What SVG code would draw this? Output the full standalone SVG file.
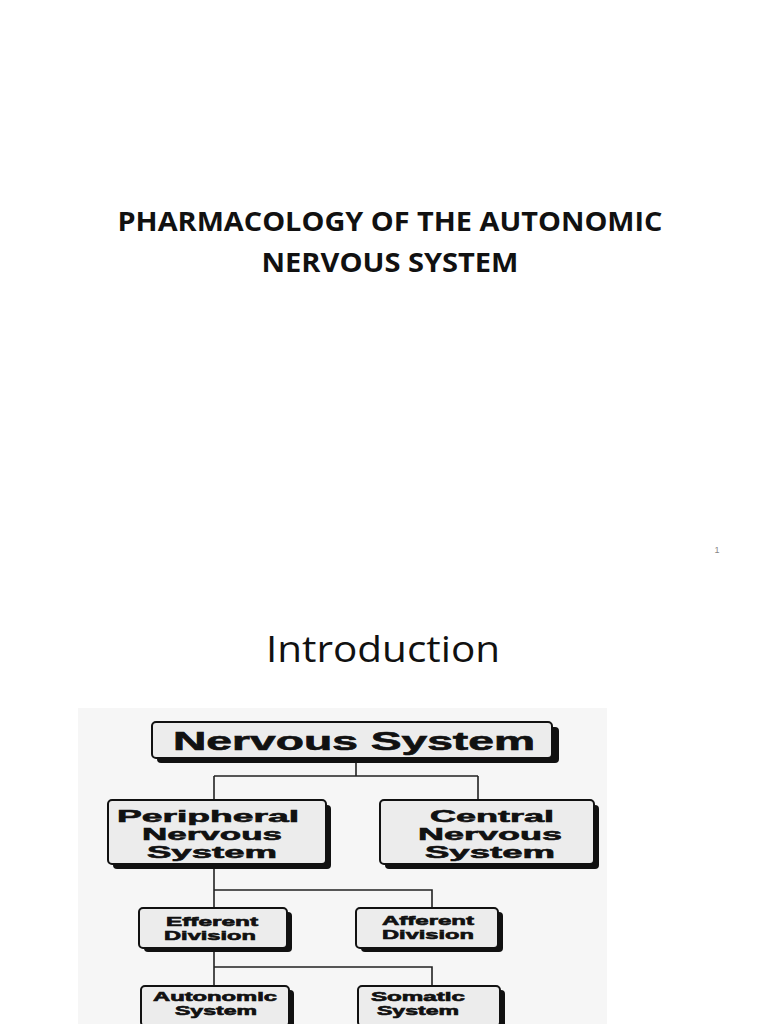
<svg xmlns="http://www.w3.org/2000/svg" width="768" height="1024" viewBox="0 0 768 1024">
<style>
.title{font-family:"Open Sans","Liberation Sans",sans-serif;font-weight:bold;font-size:26px;fill:#111;text-anchor:middle}
.intro{font-family:"Open Sans","Liberation Sans",sans-serif;font-size:37px;fill:#111;text-anchor:middle}
.box{fill:#ececec;stroke:#111;stroke-width:2}
.sh{fill:#111}
.lbl{font-family:"Liberation Sans",Arial,sans-serif;font-weight:bold;fill:#111;stroke:#111;stroke-width:0.6;text-anchor:middle}
.ln{stroke:#222;stroke-width:1.6;fill:none}
</style>
<rect width="768" height="1024" fill="#fff"/>
<text class="title" x="390" y="231" textLength="545" lengthAdjust="spacingAndGlyphs">PHARMACOLOGY OF THE AUTONOMIC</text>
<text class="title" x="390" y="272" textLength="257" lengthAdjust="spacingAndGlyphs">NERVOUS SYSTEM</text>
<text x="717" y="553" font-family="Liberation Sans,sans-serif" font-size="9" fill="#888" text-anchor="middle">1</text>
<text class="intro" x="383" y="662" textLength="234" lengthAdjust="spacingAndGlyphs">Introduction</text>
<rect x="78" y="708" width="529" height="316" fill="#f6f6f6"/>
<g id="connectors">
<path class="ln" d="M356 760V776M214 776H478M214 776V800M478 776V800"/>
<path class="ln" d="M214 866V908M214 890H432V908"/>
<path class="ln" d="M214 950V986M214 967H432V986"/>
</g>
<g id="nervous-system">
<rect class="sh" x="157" y="727" width="402" height="36" rx="4"/>
<rect class="box" x="152" y="722" width="400" height="36" rx="4"/>
<text class="lbl" x="354" y="750" font-size="25" textLength="362" lengthAdjust="spacingAndGlyphs">Nervous System</text>
</g>
<g id="peripheral">
<rect class="sh" x="113" y="805" width="218" height="64" rx="4"/>
<rect class="box" x="108" y="800" width="218" height="64" rx="4"/>
<text class="lbl" x="208" y="822" font-size="17" textLength="182" lengthAdjust="spacingAndGlyphs">Peripheral</text>
<text class="lbl" x="212" y="840" font-size="17" textLength="140" lengthAdjust="spacingAndGlyphs">Nervous</text>
<text class="lbl" x="212" y="858" font-size="17" textLength="130" lengthAdjust="spacingAndGlyphs">System</text>
</g>
<g id="central">
<rect class="sh" x="385" y="805" width="214" height="64" rx="4"/>
<rect class="box" x="380" y="800" width="214" height="64" rx="4"/>
<text class="lbl" x="492" y="822" font-size="17" textLength="124" lengthAdjust="spacingAndGlyphs">Central</text>
<text class="lbl" x="490" y="840" font-size="17" textLength="144" lengthAdjust="spacingAndGlyphs">Nervous</text>
<text class="lbl" x="490" y="858" font-size="17" textLength="130" lengthAdjust="spacingAndGlyphs">System</text>
</g>
<g id="efferent">
<rect class="sh" x="144" y="912" width="148" height="40" rx="4"/>
<rect class="box" x="139" y="908" width="148" height="40" rx="4"/>
<text class="lbl" x="212" y="926" font-size="12.5" stroke-width="0.4" textLength="92" lengthAdjust="spacingAndGlyphs">Efferent</text>
<text class="lbl" x="210" y="940" font-size="12.5" stroke-width="0.4" textLength="92" lengthAdjust="spacingAndGlyphs">Division</text>
</g>
<g id="afferent">
<rect class="sh" x="361" y="912" width="142" height="40" rx="4"/>
<rect class="box" x="356" y="908" width="142" height="40" rx="4"/>
<text class="lbl" x="428" y="925" font-size="12.5" stroke-width="0.4" textLength="92" lengthAdjust="spacingAndGlyphs">Afferent</text>
<text class="lbl" x="428" y="939" font-size="12.5" stroke-width="0.4" textLength="92" lengthAdjust="spacingAndGlyphs">Division</text>
</g>
<g id="autonomic">
<rect class="sh" x="146" y="990" width="148" height="40" rx="4"/>
<rect class="box" x="141" y="986" width="148" height="40" rx="4"/>
<text class="lbl" x="215" y="1001" font-size="12" stroke-width="0.4" textLength="124" lengthAdjust="spacingAndGlyphs">Autonomic</text>
<text class="lbl" x="216" y="1015" font-size="12" stroke-width="0.4" textLength="82" lengthAdjust="spacingAndGlyphs">System</text>
</g>
<g id="somatic">
<rect class="sh" x="363" y="990" width="142" height="40" rx="4"/>
<rect class="box" x="358" y="986" width="142" height="40" rx="4"/>
<text class="lbl" x="418" y="1001" font-size="12" stroke-width="0.4" textLength="94" lengthAdjust="spacingAndGlyphs">Somatic</text>
<text class="lbl" x="418" y="1015" font-size="12" stroke-width="0.4" textLength="82" lengthAdjust="spacingAndGlyphs">System</text>
</g>
</svg>
